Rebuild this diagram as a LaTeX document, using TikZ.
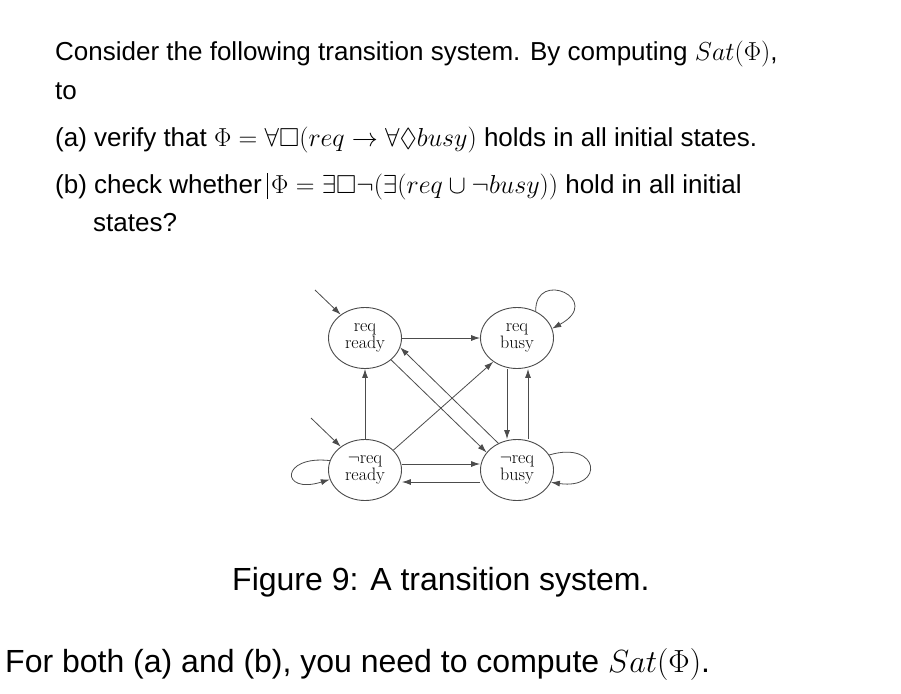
\documentclass[tikz,border=0pt]{standalone}
\usepackage{fix-cm}
\usepackage{fontspec}
\newfontfamily\arial{Liberation Sans}
\usepackage{amssymb}
\usetikzlibrary{arrows.meta,shapes.geometric}
\begin{document}
\begin{tikzpicture}[x=1pt,y=1pt,
  st/.style={draw=black!70,line width=0.9pt,ellipse,minimum width=73pt,minimum height=61pt,inner sep=0pt,font=\fontsize{18}{15}\selectfont,align=center},
  tr/.style={draw=black!70,line width=0.8pt,-{Latex[length=9pt,width=6pt]}},
  txt/.style={anchor=base west,font=\arial\fontsize{26}{30}\selectfont,inner sep=0pt},
  big/.style={anchor=base west,font=\arial\fontsize{32}{36}\selectfont,inner sep=0pt}]
\useasboundingbox[fill=white] (0,0) rectangle (901,-693);
\node[txt] (l1) at (55,-60) {Consider the following transition system. By computing $Sat(\Phi)$,};
\node[txt] (l2) at (55,-99) {to};
\node[txt] (l3) at (55,-146) {(a) verify that $\Phi=\forall\square(req\rightarrow\forall\lozenge busy)$ holds in all initial states.};
\node[txt] (l4) at (55,-193) {(b) check whether};
\node[txt,anchor=base west] (l4b) at ([xshift=9pt]l4.base east) {$\Phi=\exists\square\neg(\exists(req\cup\neg busy))$ hold in all initial};
\draw[line width=0.6pt] ([xshift=5pt,yshift=-6pt]l4.base east) -- ([xshift=5pt,yshift=20pt]l4.base east);
\node[txt] (l5) at (93,-231) {states?};
\node[big] (f9) at (232,-590) {Figure 9: A transition system.};
\node[big] (l6) at (5,-672) {For both (a) and (b), you need to compute $Sat(\Phi)$.};
% states
\node[st] (rr) at (365,-338) {req\\ready};
\node[st] (rb) at (517,-338) {req\\busy};
\node[st] (nr) at (365,-470) {$\neg$req\\ready};
\node[st] (nb) at (517,-470) {$\neg$req\\busy};
\coordinate (i1) at (315,-290);
\coordinate (i2) at (311,-418);
\draw[tr] (i1) -- (rr);
\draw[tr] (i2) -- (nr);
\draw[tr] (rr.east) -- (rb.west);
\draw[tr] ([yshift=6pt]nr.east) -- ([yshift=6pt]nb.west);
\draw[tr] ([yshift=-12pt]nb.west) -- ([yshift=-12pt]nr.east);
\draw[tr] (nr) -- (rr);
\draw[tr] ([xshift=-10pt]rb.south) -- ([xshift=-10pt]nb.north);
\draw[tr] ([xshift=11pt]nb.north) -- ([xshift=11pt]rb.south);
\draw[tr] (rr.-40) -- (nb.150);
\draw[tr] (nb.125) -- (rr.-15);
\draw[tr] (nr.35) -- (rb.-135);
\draw[tr] (rb.55) .. controls (535,-268) and (605,-300) .. (rb.15);
\draw[tr] (nb.25) .. controls (600,-440) and (605,-490) .. (nb.-20);
\draw[tr] (nr.165) .. controls (280,-455) and (280,-495) .. (nr.-165);
\end{tikzpicture}
\end{document}
